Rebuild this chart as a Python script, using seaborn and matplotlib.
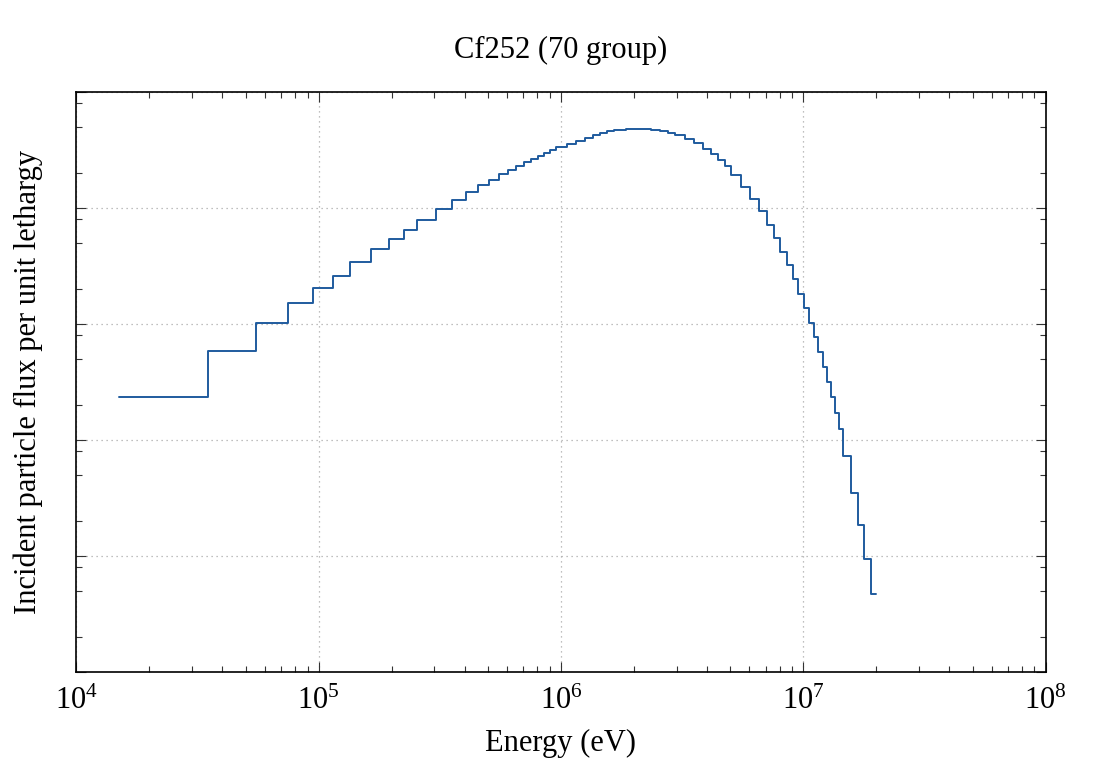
import numpy as np
import pandas as pd
import matplotlib
matplotlib.use("Agg")
import matplotlib.pyplot as plt
import matplotlib.ticker as mticker
import seaborn as sns

# Group boundaries (MeV)
edges_mev = [0.015, 0.035, 0.055, 0.075, 0.095, 0.115, 0.135, 0.165, 0.195, 0.225,
             0.255, 0.305, 0.355, 0.405, 0.455, 0.505, 0.555, 0.605, 0.655, 0.705,
             0.755, 0.805, 0.855, 0.905, 0.955, 1.055, 1.155, 1.255, 1.355, 1.455,
             1.555, 1.655, 1.755, 1.855, 1.955, 2.055, 2.155, 2.255, 2.355, 2.555,
             2.755, 2.955, 3.255, 3.555, 3.855, 4.155, 4.455, 4.755, 5.055, 5.555,
             6.055, 6.555, 7.055, 7.555, 8.055, 8.555, 9.055, 9.555, 10.055, 10.555,
             11.055, 11.555, 12.055, 12.555, 13.055, 13.555, 14.055, 14.555, 15.8,
             16.8, 17.8, 19.0, 19.9]

# Flux per unit lethargy in each group (arbitrary units)
flux = [2.33e-3, 5.85e-3, 1.007e-2, 1.50e-2, 2.04e-2, 2.60e-2, 3.38e-2, 4.38e-2, 5.37e-2,
        6.46e-2, 7.88e-2, 9.80e-2, 0.1172, 0.1358, 0.156, 0.1733, 0.194, 0.2113, 0.2302,
        0.2477, 0.2645, 0.2807, 0.2962, 0.3126, 0.3318, 0.354, 0.378, 0.401, 0.421,
        0.4406, 0.456, 0.465, 0.470, 0.474, 0.476, 0.477, 0.476, 0.473, 0.468, 0.456,
        0.4406, 0.421, 0.3935, 0.359, 0.323, 0.2904, 0.2578, 0.2302, 0.1913, 0.1517,
        0.1188, 0.0931, 0.0714, 0.0545, 0.0418, 0.0319, 0.02413, 0.01803, 0.01365,
        0.01020, 7.63e-3, 5.70e-3, 4.23e-3, 3.16e-3, 2.32e-3, 1.71e-3, 1.244e-3,
        7.23e-4, 3.49e-4, 1.84e-4, 9.31e-5, 4.65e-5]

title = "Cf252 (70 group)"
xlabel = "Energy (eV)"
ylabel = "Incident particle flux per unit lethargy"

sns.set_theme(style="ticks")
plt.rcParams["font.family"] = ["Liberation Serif", "DejaVu Serif"]
plt.rcParams["mathtext.fontset"] = "stix"
plt.rcParams["text.color"] = "black"
plt.rcParams["axes.labelcolor"] = "black"

df = pd.DataFrame({
    "energy": np.array(edges_mev) * 1e6,
    "flux": flux + [flux[-1]],
})

fig = plt.figure(figsize=(11, 7.7), dpi=100)
ax = fig.add_axes([0.0694, 0.1277, 0.9505 - 0.0694, 0.8809 - 0.1277])

sns.lineplot(data=df, x="energy", y="flux", ax=ax, drawstyle="steps-post",
             color="#1f5b9e", linewidth=1.4, sort=False, estimator=None)

ax.set_xscale("log")
ax.set_yscale("log")
ax.set_xlim(1e4, 1e8)
ax.set_ylim(1e-5, 1)

ax.xaxis.set_major_locator(mticker.LogLocator(base=10, numticks=10))
ax.xaxis.set_minor_locator(mticker.LogLocator(base=10, subs=np.arange(2, 10), numticks=20))
ax.xaxis.set_minor_formatter(mticker.NullFormatter())
ax.yaxis.set_major_locator(mticker.LogLocator(base=10, numticks=10))
ax.yaxis.set_minor_locator(mticker.LogLocator(base=10, subs=(2, 5, 8), numticks=20))
ax.yaxis.set_major_formatter(mticker.NullFormatter())
ax.yaxis.set_minor_formatter(mticker.NullFormatter())

ax.tick_params(which="both", direction="in", top=True, right=True,
               color="#333333", width=0.8, labelcolor="black")
ax.tick_params(which="major", length=7.2, labelsize=22, pad=11)
ax.tick_params(which="minor", length=4)

for s in ax.spines.values():
    s.set_linewidth(1.2)
    s.set_color("black")

ax.grid(True, which="major", linestyle=(0, (1, 3)), color="#aaaaaa", linewidth=0.9)
ax.grid(False, which="minor")

ax.set_title(title, fontsize=22, pad=24, color="black")
ax.set_xlabel(xlabel, fontsize=22, labelpad=9)
ax.set_ylabel(ylabel, fontsize=22, labelpad=13)

fig.savefig("out.png", dpi=100)
